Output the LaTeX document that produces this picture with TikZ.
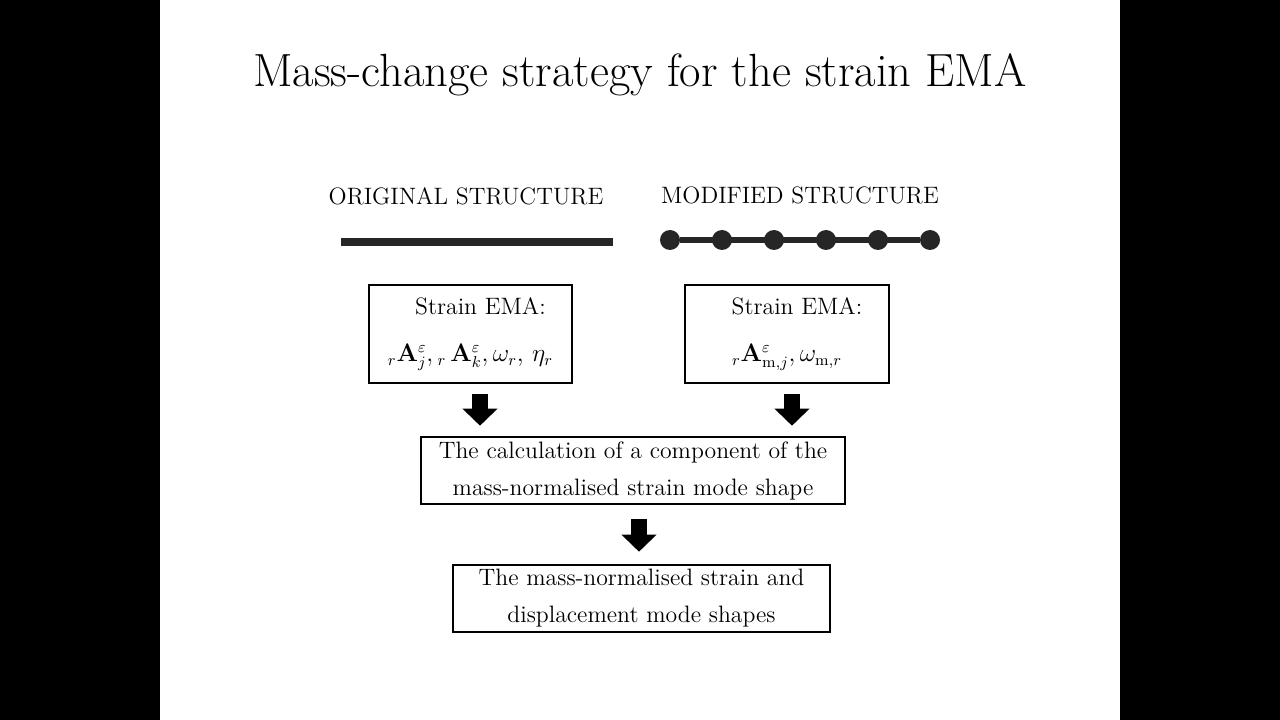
\documentclass[tikz,border=0pt]{standalone}
\usepackage{amsmath}
\usetikzlibrary{arrows.meta,positioning,calc}
\begin{document}
\begin{tikzpicture}[x=0.2mm,y=-0.2mm,
    box/.style = {draw, line width=0.8pt, align=center, font=\fontsize{13.5}{21}\selectfont, inner sep=0pt},
    heading/.style = {font=\fontsize{13.5}{16}\selectfont},
    bead/.style = {circle, fill=black!85, inner sep=0pt, minimum size=4mm},
    blockarrow/.style = {line width=3.2mm, -{Triangle[length=3.4mm,width=6.8mm]}}]
    \useasboundingbox (0,0) rectangle (1280,720);
    \fill[black] (0,0) rectangle (160,720);
    \fill[black] (1120,0) rectangle (1280,720);

    \node[font=\fontsize{26.5}{30}\selectfont] (title) at (640,75) {Mass-change strategy for the strain EMA};

    \node[heading] (orig) at (466,196) {ORIGINAL STRUCTURE};
    \node[heading] (modi) at (800,195) {MODIFIED STRUCTURE};

    % structures
    \coordinate (o1) at (341,242);
    \coordinate (o2) at (613,242);
    \draw[line width=1.6mm, black!85] (o1) -- (o2);
    \foreach \i in {0,...,5} {
        \node[bead] (m\i) at (670+52*\i,240) {};
    }
    \draw[line width=1.3mm, black!85] (m0) -- (m5);

    % boxes
    \node[box, minimum width=40.6mm, minimum height=19.6mm] (ema1) at (470.5,334)
        {\hspace*{4mm}Strain EMA:\\[6pt] ${}_r\mathbf{A}^{\varepsilon}_{j},{}_r\,\mathbf{A}^{\varepsilon}_{k},\omega_r,\,\eta_r$};
    \node[box, minimum width=40.8mm, minimum height=19.6mm] (ema2) at (787,334)
        {\hspace*{4mm}Strain EMA:\\[6pt] ${}_r\mathbf{A}^{\varepsilon}_{\mathrm{m},j},\omega_{\mathrm{m},r}$};
    \node[box, minimum width=84.8mm, minimum height=13.4mm] (calc) at (633,470.5)
        {The calculation of a component of the\\ mass-normalised strain mode shape};
    \node[box, minimum width=75.4mm, minimum height=13.4mm] (res) at (641.5,598.5)
        {The mass-normalised strain and\\ displacement mode shapes};

    % arrows
    \draw[blockarrow] ($(ema1.south)+(9.5,10)$) -- ++(0,32);
    \draw[blockarrow] ($(ema2.south)+(5,10)$) -- ++(0,32);
    \draw[blockarrow] ($(calc.south)+(6,14)$) -- ++(0,33);
\end{tikzpicture}
\end{document}
